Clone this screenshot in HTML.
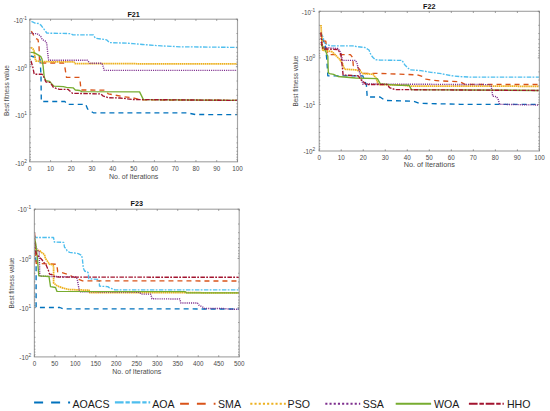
<!DOCTYPE html>
<html><head><meta charset="utf-8"><title>Convergence curves</title>
<style>html,body{margin:0;padding:0;background:#fff;}body{width:550px;height:411px;position:relative;overflow:hidden;font-family:"Liberation Sans",sans-serif;}</style>
</head><body>
<svg width="550" height="411" viewBox="0 0 550 411" style="position:absolute;left:0;top:0">
<g font-family='"Liberation Sans", sans-serif' font-size="6.3" fill="#4a4a4a"><clipPath id="c0"><rect x="29.8" y="19.2" width="207.7" height="142.6"/></clipPath><g clip-path="url(#c0)" fill="none" stroke-width="1.35" stroke-linejoin="round"><polyline points="31,56 34,57 38,58 40,59 41,75 41.3,101.5 65,101.5 66.8,104.3 85.7,104.3 87.6,109 93.3,112.8 187,112.8 195.4,114.5 237,114.7" stroke="#0072BD" stroke-dasharray="5 4"/><polyline points="31.5,21.4 32,21.7 35,23.1 38.6,23.5 40.8,25 43,27.9 45.2,30.8 46.8,33 49.5,33.2 71,33.6 72.9,34.9 93.3,34.9 95.2,38 96.1,38.3 106.5,39.8 109.4,42.6 127.3,43.2 133,43.6 142.5,44.5 161.4,45.9 180.3,46.8 237,47.4" stroke="#4DBEEE" stroke-dasharray="4.5 1.3 1.8 1.4"/><polyline points="31.3,31.2 32.8,33.7 35,38.1 37.9,39.5 39,45 39.5,61.5 40,63 63.5,63 64.5,65 66.5,77.4 79.3,77.4 80,80 81,90 104.6,90.1 108.4,93.9 123.5,96.7 133,97.7 140,99.8 237,100.4" stroke="#D95319" stroke-dasharray="5 4"/><polyline points="31,47.5 32.9,48.7 34.1,51.1 34.7,56.6 35.9,60.9 40.2,61.5 52,61.8 74,62 75,63.6 237,64" stroke="#EDB120" stroke-dasharray="1.6 0.5" stroke-width="1.75"/><polyline points="31.3,32.5 32.4,33.7 36.4,33.6 38.6,34.4 40.8,36.6 42.2,39.5 45.2,41 46.6,43.2 46.9,45 48.1,56.6 48.7,60.2 87.3,60.2 90,63.3 102,63.3 103.1,66.4 104.2,70.4 237,70.4" stroke="#7E2F8E" stroke-dasharray="1.1 1.05" stroke-width="1.4"/><polyline points="31,52.4 34.1,52.7 38.9,55.4 40.8,56.6 42,59 43.1,66 44.2,76.9 45.8,80.7 49.6,81.3 51.3,83.4 54,86.2 63.3,86.7 66.5,87.3 73.1,87.8 75.3,90 79.6,90.5 81.8,91.7 139.6,91.9 143.4,99.6 237,100.3" stroke="#77AC30"/><polyline points="31,60.9 32.9,67.6 34.1,73.6 34.5,74.2 42,74.2 43.6,76.4 45.8,81.8 48,82.4 50.2,82.4 53.4,87.3 56.2,88.4 59.4,89.4 68.2,89.4 69.3,90.5 72.5,93.3 100.9,93.9 102.8,95.8 108.4,97.7 120,98 127.3,98.8 133,99.5 237,100.4" stroke="#A2142F" stroke-dasharray="4.5 1.3 1.8 1.4"/></g><rect x="29.8" y="19.2" width="207.7" height="142.6" fill="none" stroke="#a4a4a4" stroke-width="1.15"/><path d="M29.8 19.2v1.6M29.8 161.8v-1.6M50.57 19.2v1.6M50.57 161.8v-1.6M71.34 19.2v1.6M71.34 161.8v-1.6M92.11 19.2v1.6M92.11 161.8v-1.6M112.88 19.2v1.6M112.88 161.8v-1.6M133.65 19.2v1.6M133.65 161.8v-1.6M154.42 19.2v1.6M154.42 161.8v-1.6M175.19 19.2v1.6M175.19 161.8v-1.6M195.96 19.2v1.6M195.96 161.8v-1.6M216.73 19.2v1.6M216.73 161.8v-1.6M237.5 19.2v1.6M237.5 161.8v-1.6M29.8 19.2h1.6M237.5 19.2h-1.6M29.8 33.51h1.0M237.5 33.51h-1.0M29.8 41.88h1.0M237.5 41.88h-1.0M29.8 47.82h1.0M237.5 47.82h-1.0M29.8 52.42h1.0M237.5 52.42h-1.0M29.8 56.19h1.0M237.5 56.19h-1.0M29.8 59.37h1.0M237.5 59.37h-1.0M29.8 62.13h1.0M237.5 62.13h-1.0M29.8 64.56h1.0M237.5 64.56h-1.0M29.8 66.73h1.6M237.5 66.73h-1.6M29.8 81.04h1.0M237.5 81.04h-1.0M29.8 89.41h1.0M237.5 89.41h-1.0M29.8 95.35h1.0M237.5 95.35h-1.0M29.8 99.96h1.0M237.5 99.96h-1.0M29.8 103.72h1.0M237.5 103.72h-1.0M29.8 106.9h1.0M237.5 106.9h-1.0M29.8 109.66h1.0M237.5 109.66h-1.0M29.8 112.09h1.0M237.5 112.09h-1.0M29.8 114.27h1.6M237.5 114.27h-1.6M29.8 128.58h1.0M237.5 128.58h-1.0M29.8 136.95h1.0M237.5 136.95h-1.0M29.8 142.88h1.0M237.5 142.88h-1.0M29.8 147.49h1.0M237.5 147.49h-1.0M29.8 151.25h1.0M237.5 151.25h-1.0M29.8 154.44h1.0M237.5 154.44h-1.0M29.8 157.19h1.0M237.5 157.19h-1.0M29.8 159.62h1.0M237.5 159.62h-1.0" stroke="#7a7a7a" stroke-width="0.8" fill="none"/><text x="29.8" y="170.8" text-anchor="middle">0</text><text x="50.57" y="170.8" text-anchor="middle">10</text><text x="71.34" y="170.8" text-anchor="middle">20</text><text x="92.11" y="170.8" text-anchor="middle">30</text><text x="112.88" y="170.8" text-anchor="middle">40</text><text x="133.65" y="170.8" text-anchor="middle">50</text><text x="154.42" y="170.8" text-anchor="middle">60</text><text x="175.19" y="170.8" text-anchor="middle">70</text><text x="195.96" y="170.8" text-anchor="middle">80</text><text x="216.73" y="170.8" text-anchor="middle">90</text><text x="237.5" y="170.8" text-anchor="middle">100</text><text x="27" y="23.2" text-anchor="end">-10<tspan dy="-2.9" font-size="4.8">-1</tspan></text><text x="27" y="70.73" text-anchor="end">-10<tspan dy="-2.9" font-size="4.8">0</tspan></text><text x="27" y="118.27" text-anchor="end">-10<tspan dy="-2.9" font-size="4.8">1</tspan></text><text x="27" y="165.8" text-anchor="end">-10<tspan dy="-2.9" font-size="4.8">2</tspan></text><text x="133.65" y="16.8" text-anchor="middle" font-weight="bold" font-size="7.2" fill="#111">F21</text><text x="133.65" y="178.6" text-anchor="middle" font-size="7.0">No. of Iterations</text><text transform="translate(9.1 90.5) rotate(-90)" text-anchor="middle" font-size="6.5">Best fitness value</text></g>
<g font-family='"Liberation Sans", sans-serif' font-size="6.3" fill="#4a4a4a"><clipPath id="c1"><rect x="319.2" y="11.3" width="220.2" height="139.7"/></clipPath><g clip-path="url(#c1)" fill="none" stroke-width="1.35" stroke-linejoin="round"><polyline points="321,38 324,42 325,43.5 326,51 326.8,60 327.5,70 327.8,75.8 362.8,75.8 366.4,85 367.2,97 380,97 385.1,100.4 414,101.3 419.1,103.3 460,104.3 539,104.3" stroke="#0072BD" stroke-dasharray="5 4"/><polyline points="321,33 323,37 324.5,43 327,44.5 330,45.8 352.6,45.8 357,46.6 365,47.5 369,50 371,55 373,57.5 375.2,59.7 380,60.1 402.1,60.4 404.7,64.7 409.8,69.8 420.9,70.6 431,72.3 441.3,73.7 451.5,75.7 460,76.6 470,77.1 539,77.1" stroke="#4DBEEE" stroke-dasharray="4.5 1.3 1.8 1.4"/><polyline points="320.9,33 322.5,40.8 325.8,41.2 326.5,47 328,54 330.5,54.6 350.4,54.6 352.6,57.5 353.3,65.5 357,66.3 360,70 363,73.4 380,73.4 417.4,74.9 422.6,76.6 426,79.1 431,80 439.6,80.9 460,81.7 465,84.4 539,84.5" stroke="#D95319" stroke-dasharray="5 4"/><polyline points="321,25 321.5,35 322.6,50.2 332,51.7 335,54.6 339.4,59 342.4,63.4 344.5,69.2 355.5,69.9 360,71 362.8,73.6 373,74.3 376,78 378.1,84 380,84.6 400,85 410,86 539,86.3" stroke="#EDB120" stroke-dasharray="1.6 0.5" stroke-width="1.75"/><polyline points="321,42 322.5,46.5 326,47.5 330,48 338,48.5 340.9,53.1 342.4,60.4 355.5,60.4 357,63.4 358.4,69.2 360.6,75 362.8,84 489.8,84.6 491.1,85.6 492,91.1 492.7,96.2 496.6,96.7 498.3,99.6 499.5,104.3 539,105" stroke="#7E2F8E" stroke-dasharray="1.1 1.05" stroke-width="1.4"/><polyline points="320.9,44 323.4,47.3 325.5,51 327,54.6 327.8,56 328.3,72.8 329.5,73.6 333.6,74.3 338,76.5 355.5,78 377.4,78.7 380.3,83.8 399,85.3 409,85.1 411.5,89.6 539,90.5" stroke="#77AC30"/><polyline points="320.9,32.4 322,46 323,49 324.8,49 338,49.5 340.9,54.6 342.4,67.7 343.1,75 358.4,75.8 360.6,79.4 366.4,84.5 387.6,84.5 389.4,87.7 395.3,89.6 539,90.5" stroke="#A2142F" stroke-dasharray="4.5 1.3 1.8 1.4"/></g><rect x="319.2" y="11.3" width="220.2" height="139.7" fill="none" stroke="#a4a4a4" stroke-width="1.15"/><path d="M319.2 11.3v1.6M319.2 151v-1.6M341.22 11.3v1.6M341.22 151v-1.6M363.24 11.3v1.6M363.24 151v-1.6M385.26 11.3v1.6M385.26 151v-1.6M407.28 11.3v1.6M407.28 151v-1.6M429.3 11.3v1.6M429.3 151v-1.6M451.32 11.3v1.6M451.32 151v-1.6M473.34 11.3v1.6M473.34 151v-1.6M495.36 11.3v1.6M495.36 151v-1.6M517.38 11.3v1.6M517.38 151v-1.6M539.4 11.3v1.6M539.4 151v-1.6M319.2 11.3h1.6M539.4 11.3h-1.6M319.2 25.32h1.0M539.4 25.32h-1.0M319.2 33.52h1.0M539.4 33.52h-1.0M319.2 39.34h1.0M539.4 39.34h-1.0M319.2 43.85h1.0M539.4 43.85h-1.0M319.2 47.54h1.0M539.4 47.54h-1.0M319.2 50.65h1.0M539.4 50.65h-1.0M319.2 53.35h1.0M539.4 53.35h-1.0M319.2 55.74h1.0M539.4 55.74h-1.0M319.2 57.87h1.6M539.4 57.87h-1.6M319.2 71.88h1.0M539.4 71.88h-1.0M319.2 80.08h1.0M539.4 80.08h-1.0M319.2 85.9h1.0M539.4 85.9h-1.0M319.2 90.42h1.0M539.4 90.42h-1.0M319.2 94.1h1.0M539.4 94.1h-1.0M319.2 97.22h1.0M539.4 97.22h-1.0M319.2 99.92h1.0M539.4 99.92h-1.0M319.2 102.3h1.0M539.4 102.3h-1.0M319.2 104.43h1.6M539.4 104.43h-1.6M319.2 118.45h1.0M539.4 118.45h-1.0M319.2 126.65h1.0M539.4 126.65h-1.0M319.2 132.47h1.0M539.4 132.47h-1.0M319.2 136.98h1.0M539.4 136.98h-1.0M319.2 140.67h1.0M539.4 140.67h-1.0M319.2 143.79h1.0M539.4 143.79h-1.0M319.2 146.49h1.0M539.4 146.49h-1.0M319.2 148.87h1.0M539.4 148.87h-1.0" stroke="#7a7a7a" stroke-width="0.8" fill="none"/><text x="319.2" y="159.5" text-anchor="middle">0</text><text x="341.22" y="159.5" text-anchor="middle">10</text><text x="363.24" y="159.5" text-anchor="middle">20</text><text x="385.26" y="159.5" text-anchor="middle">30</text><text x="407.28" y="159.5" text-anchor="middle">40</text><text x="429.3" y="159.5" text-anchor="middle">50</text><text x="451.32" y="159.5" text-anchor="middle">60</text><text x="473.34" y="159.5" text-anchor="middle">70</text><text x="495.36" y="159.5" text-anchor="middle">80</text><text x="517.38" y="159.5" text-anchor="middle">90</text><text x="539.4" y="159.5" text-anchor="middle">100</text><text x="315.2" y="14.5" text-anchor="end">-10<tspan dy="-2.9" font-size="4.8">-1</tspan></text><text x="315.2" y="61.07" text-anchor="end">-10<tspan dy="-2.9" font-size="4.8">0</tspan></text><text x="315.2" y="107.63" text-anchor="end">-10<tspan dy="-2.9" font-size="4.8">1</tspan></text><text x="315.2" y="154.2" text-anchor="end">-10<tspan dy="-2.9" font-size="4.8">2</tspan></text><text x="429.3" y="8.8" text-anchor="middle" font-weight="bold" font-size="7.2" fill="#111">F22</text><text x="429.3" y="167.4" text-anchor="middle" font-size="7.25">No. of Iterations</text><text transform="translate(298.3 81.15) rotate(-90)" text-anchor="middle" font-size="6.5">Best fitness value</text></g>
<g font-family='"Liberation Sans", sans-serif' font-size="6.3" fill="#4a4a4a"><clipPath id="c2"><rect x="34.4" y="209.2" width="204.8" height="147.7"/></clipPath><g clip-path="url(#c2)" fill="none" stroke-width="1.35" stroke-linejoin="round"><polyline points="34.6,248.4 35.4,255.2 36.1,262 36.1,307.5 59.9,307.5 62.8,308.8 239,309" stroke="#0072BD" stroke-dasharray="5 4"/><polyline points="34.5,235.5 35.6,237.5 53.5,237.5 54.4,242 63.7,242.4 64.5,247.2 66.2,248.9 67.1,250.9 69.6,252.3 78.2,253.6 81.6,255.3 82.4,259.1 83.3,268 84.6,271 87.5,272 88.3,273 88.8,278.7 98.5,279.4 99.2,280.3 99.5,286.2 107.8,286.6 109.2,287.6 113.4,289.2 114.7,289.8 239,289.8" stroke="#4DBEEE" stroke-dasharray="4.5 1.3 1.8 1.4"/><polyline points="34.5,233 35,240 35.6,252 36.2,263.4 41.5,263.6 56.8,264.3 57.7,271.7 58.5,271.7 67.9,274.4 72.3,276.5 79.5,279.6 82.5,280.8 239,281" stroke="#D95319" stroke-dasharray="5 4"/><polyline points="34.6,244 35.6,250.2 39.8,250.6 41.5,252.5 43.2,253.5 44.5,255 45.5,258.6 48.2,262.3 49.1,264.1 51.8,264.5 53.2,265.5 53.6,266.8 53.6,283 56.8,285.5 59.2,286.7 63.5,288.2 69.4,289.6 89,290.2 89.6,292.6 239,292.8" stroke="#EDB120" stroke-dasharray="1.6 0.5" stroke-width="1.75"/><polyline points="34.5,240 35.5,246 37.5,250.5 39.2,251.3 39.4,260 39.8,276.2 76.4,277 77.3,279.6 78.1,284 79,289 79.3,291.8 139.6,292.2 141.1,294.1 150.5,294.1 151.3,296 152,298.8 179.7,299 180.9,303 197.5,303 198.7,305 203.4,307.3 204.6,308.5 223.5,308.5 230.6,309.2 239,309.2" stroke="#7E2F8E" stroke-dasharray="1.1 1.05" stroke-width="1.4"/><polyline points="34.5,238 35.9,244.5 37.3,257.4 38.8,275.8 49,276.5 50.5,286.7 55.5,287.5 57,291.4 185.3,291.6 186.3,292.7 239,292.8" stroke="#77AC30"/><polyline points="34.4,232.4 34.8,247.2 36.4,254 38.5,256.5 40,257.7 41.8,259.5 44.1,262.7 45.9,264.5 47.3,267.7 48.6,270.9 49.5,274.1 51.8,274.5 53.6,275.9 55,276.8 60,277.1 239,277.3" stroke="#A2142F" stroke-dasharray="4.5 1.3 1.8 1.4"/></g><rect x="34.4" y="209.2" width="204.8" height="147.7" fill="none" stroke="#a4a4a4" stroke-width="1.15"/><path d="M34.4 209.2v1.6M34.4 356.9v-1.6M54.88 209.2v1.6M54.88 356.9v-1.6M75.36 209.2v1.6M75.36 356.9v-1.6M95.84 209.2v1.6M95.84 356.9v-1.6M116.32 209.2v1.6M116.32 356.9v-1.6M136.8 209.2v1.6M136.8 356.9v-1.6M157.28 209.2v1.6M157.28 356.9v-1.6M177.76 209.2v1.6M177.76 356.9v-1.6M198.24 209.2v1.6M198.24 356.9v-1.6M218.72 209.2v1.6M218.72 356.9v-1.6M239.2 209.2v1.6M239.2 356.9v-1.6M34.4 209.2h1.6M239.2 209.2h-1.6M34.4 224.02h1.0M239.2 224.02h-1.0M34.4 232.69h1.0M239.2 232.69h-1.0M34.4 238.84h1.0M239.2 238.84h-1.0M34.4 243.61h1.0M239.2 243.61h-1.0M34.4 247.51h1.0M239.2 247.51h-1.0M34.4 250.81h1.0M239.2 250.81h-1.0M34.4 253.66h1.0M239.2 253.66h-1.0M34.4 256.18h1.0M239.2 256.18h-1.0M34.4 258.43h1.6M239.2 258.43h-1.6M34.4 273.25h1.0M239.2 273.25h-1.0M34.4 281.92h1.0M239.2 281.92h-1.0M34.4 288.07h1.0M239.2 288.07h-1.0M34.4 292.85h1.0M239.2 292.85h-1.0M34.4 296.74h1.0M239.2 296.74h-1.0M34.4 300.04h1.0M239.2 300.04h-1.0M34.4 302.9h1.0M239.2 302.9h-1.0M34.4 305.41h1.0M239.2 305.41h-1.0M34.4 307.67h1.6M239.2 307.67h-1.6M34.4 322.49h1.0M239.2 322.49h-1.0M34.4 331.16h1.0M239.2 331.16h-1.0M34.4 337.31h1.0M239.2 337.31h-1.0M34.4 342.08h1.0M239.2 342.08h-1.0M34.4 345.98h1.0M239.2 345.98h-1.0M34.4 349.27h1.0M239.2 349.27h-1.0M34.4 352.13h1.0M239.2 352.13h-1.0M34.4 354.65h1.0M239.2 354.65h-1.0" stroke="#7a7a7a" stroke-width="0.8" fill="none"/><text x="34.4" y="365.5" text-anchor="middle">0</text><text x="54.88" y="365.5" text-anchor="middle">50</text><text x="75.36" y="365.5" text-anchor="middle">100</text><text x="95.84" y="365.5" text-anchor="middle">150</text><text x="116.32" y="365.5" text-anchor="middle">200</text><text x="136.8" y="365.5" text-anchor="middle">250</text><text x="157.28" y="365.5" text-anchor="middle">300</text><text x="177.76" y="365.5" text-anchor="middle">350</text><text x="198.24" y="365.5" text-anchor="middle">400</text><text x="218.72" y="365.5" text-anchor="middle">450</text><text x="239.2" y="365.5" text-anchor="middle">500</text><text x="31.1" y="212.3" text-anchor="end">-10<tspan dy="-2.9" font-size="4.8">-1</tspan></text><text x="31.1" y="261.53" text-anchor="end">-10<tspan dy="-2.9" font-size="4.8">0</tspan></text><text x="31.1" y="310.77" text-anchor="end">-10<tspan dy="-2.9" font-size="4.8">1</tspan></text><text x="31.1" y="360" text-anchor="end">-10<tspan dy="-2.9" font-size="4.8">2</tspan></text><text x="136.8" y="205.6" text-anchor="middle" font-weight="bold" font-size="7.2" fill="#111">F23</text><text x="136.8" y="374" text-anchor="middle" font-size="6.95">No. of Iterations</text><text transform="translate(14.3 283.05) rotate(-90)" text-anchor="middle" font-size="6.5">Best fitness value</text></g>
<g font-family='"Liberation Sans", sans-serif' font-size="10.6" fill="#1a1a1a"><line x1="34.1" y1="402.5" x2="70.1" y2="402.5" stroke="#0072BD" stroke-width="2.1" stroke-dasharray="9 8"/><text x="72.5" y="407.7">AOACS</text><line x1="114.9" y1="402.4" x2="150.2" y2="402.4" stroke="#4DBEEE" stroke-width="2.1" stroke-dasharray="8.7 1.9 4.3 1.9"/><text x="152.3" y="407.7">AOA</text><line x1="180.1" y1="403.8" x2="215.5" y2="403.8" stroke="#D95319" stroke-width="2.1" stroke-dasharray="8.8 8"/><text x="218" y="407.7">SMA</text><line x1="250.3" y1="403.8" x2="285.8" y2="403.8" stroke="#EDB120" stroke-width="2.1" stroke-dasharray="2.1 2.1"/><text x="287.6" y="407.7">PSO</text><line x1="325.3" y1="403.8" x2="360.2" y2="403.8" stroke="#7E2F8E" stroke-width="2.1" stroke-dasharray="2.1 2.1"/><text x="362.7" y="407.7">SSA</text><line x1="395.7" y1="403.8" x2="431.1" y2="403.8" stroke="#77AC30" stroke-width="2.1"/><text x="433.9" y="407.7">WOA</text><line x1="468.9" y1="403.8" x2="503.8" y2="403.8" stroke="#A2142F" stroke-width="2.1" stroke-dasharray="8.7 1.8 4.5 1.8"/><text x="506.9" y="407.7">HHO</text></g>
</svg>
</body></html>
